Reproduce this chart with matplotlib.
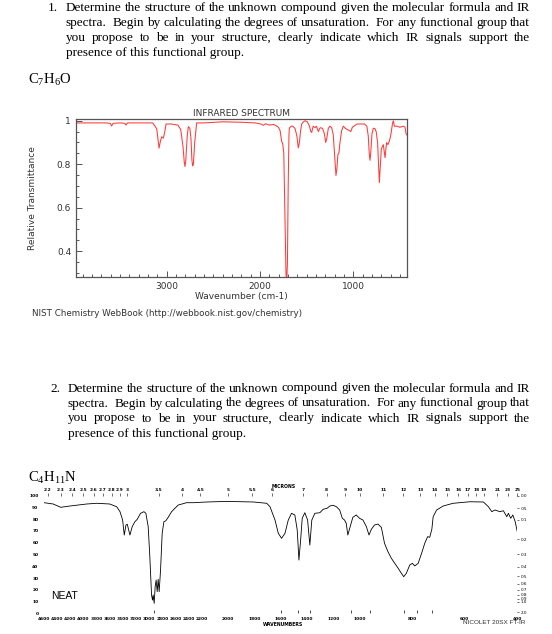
import numpy as np
import matplotlib.pyplot as plt

plt.rcParams['mathtext.fontset'] = 'custom'
plt.rcParams['mathtext.rm'] = 'Liberation Serif'
plt.rcParams['mathtext.it'] = 'Liberation Serif:italic'
plt.rcParams['mathtext.default'] = 'rm'

W, H = 552, 634

# question text
question_lines = [
    "Determine the structure of the unknown compound given the molecular formula and IR",
    "spectra.  Begin by calculating the degrees of unsaturation.  For any functional group that",
    "you propose to be in your structure, clearly indicate which IR signals support the",
    "presence of this functional group.",
]
formula_1 = r'C$_7$H$_6$O'
formula_2 = r'C$_4$H$_{11}$N'

# spectrum 1 (NIST webbook)
nist_wn = [3972, 3800, 3650, 3605, 3590, 3575, 3500, 3450, 3436, 3420,
           3300, 3150, 3107, 3090, 3082, 3068, 3054, 3036, 3020, 3007,
           2950, 2880, 2850, 2825, 2812, 2804, 2795, 2780, 2768, 2752,
           2740, 2730, 2722, 2714, 2700, 2679, 2600, 2400, 2200, 2050,
           1990, 1965, 1940, 1900, 1857, 1830, 1803, 1785, 1768, 1757,
           1745, 1732, 1722, 1714, 1706, 1698, 1690, 1686, 1665, 1650,
           1625, 1605, 1590, 1578, 1565, 1553, 1535, 1518, 1493, 1470,
           1456, 1446, 1430, 1411, 1395, 1375, 1360, 1350, 1330, 1310,
           1296, 1284, 1268, 1250, 1232, 1215, 1200, 1186, 1176, 1165,
           1155, 1143, 1125, 1107, 1085, 1064, 1045, 1028, 1010, 993,
           960, 929, 880, 855, 840, 828, 821, 812, 800, 786,
           770, 755, 740, 728, 721, 714, 700, 690, 679, 670,
           660, 650, 643, 630, 615, 600, 589, 579, 571, 560,
           535, 500, 464, 445, 435, 428]
nist_t = [0.99, 0.99, 0.99, 0.988, 0.976, 0.988, 0.99, 0.988, 0.98, 0.99,
          0.99, 0.99, 0.963, 0.90, 0.874, 0.905, 0.926, 0.92, 0.95, 0.985,
          0.985, 0.98, 0.96, 0.88, 0.81, 0.789, 0.82, 0.93, 0.973, 0.965,
          0.92, 0.82, 0.792, 0.80, 0.90, 0.99, 0.99, 0.995, 0.993, 0.99,
          0.985, 0.979, 0.986, 0.98, 0.983, 0.978, 0.97, 0.955, 0.905, 0.895,
          0.85, 0.55, 0.30, 0.25, 0.35, 0.7, 0.93, 0.966, 0.975, 0.975,
          0.965, 0.93, 0.875, 0.9, 0.955, 0.985, 0.995, 1.0, 0.995, 0.975,
          0.95, 0.946, 0.975, 0.968, 0.975, 0.95, 0.965, 0.968, 0.965, 0.94,
          0.9, 0.92, 0.965, 0.975, 0.968, 0.935, 0.84, 0.748, 0.78, 0.845,
          0.85, 0.9, 0.955, 0.975, 0.965, 0.96, 0.955, 0.95, 0.97, 0.975,
          0.985, 0.985, 0.985, 0.975, 0.93, 0.84, 0.818, 0.86, 0.94, 0.965,
          0.965, 0.95, 0.9, 0.78, 0.715, 0.77, 0.87, 0.88, 0.89, 0.86,
          0.83, 0.875, 0.9, 0.89, 0.905, 0.93, 0.96, 0.99, 1.0, 0.975,
          0.975, 0.97, 0.975, 0.97, 0.94, 0.935]
nist_xticks = [3000, 2000, 1000]
nist_yticks = [0.4, 0.6, 0.8, 1]
nist_ylabels = ['0.4', '0.6', '0.8', '1']

# spectrum 2 (Aldrich / Nicolet, % transmittance)
amine_wn = [4600, 4460, 4346, 4205, 3950, 3800, 3600, 3495, 3444, 3404,
            3379, 3353, 3333, 3293, 3258, 3217, 3182, 3131, 3080, 3050,
            3015, 2990, 2964, 2949, 2939, 2924, 2909, 2894, 2878, 2863,
            2848, 2827, 2802, 2776, 2746, 2711, 2659, 2559, 2431, 2330,
            2160, 2010, 1808, 1706, 1681, 1643, 1618, 1593, 1567, 1542,
            1517, 1492, 1474, 1461, 1448, 1436, 1416, 1395, 1378, 1363,
            1340, 1302, 1277, 1246, 1226, 1201, 1176, 1151, 1131, 1114,
            1101, 1089, 1071, 1051, 1025, 1000, 987, 974, 964, 955,
            943, 930, 917, 905, 892, 879, 866, 853, 841, 832,
            822, 809, 799, 790, 777, 764, 752, 741, 733, 725,
            720, 707, 682, 644, 580, 529, 510, 497, 485, 466,
            453, 440, 434, 425, 417, 408, 400]
amine_t = [93.9, 92.8, 90.0, 91.1, 92.8, 93.4, 92.8, 90.5, 86.3, 79.2,
           66.5, 75.0, 75.6, 66.5, 73.6, 77.8, 79.8, 84.9, 86.3, 84.9,
           73.6, 48.0, 15.7, 11.4, 15.7, 8.6, 22.7, 28.4, 18.5, 29.0,
           18.5, 36.9, 68.0, 77.8, 78.6, 81.5, 86.3, 91.9, 93.9, 93.9,
           94.5, 95.0, 94.5, 93.4, 90.5, 79.2, 68.0, 63.7, 68.0, 79.2,
           84.9, 83.5, 70.8, 45.3, 62.3, 80.7, 85.4, 79.2, 58.0, 79.2,
           84.9, 85.4, 88.3, 89.2, 91.1, 91.7, 90.5, 87.7, 80.7, 79.2,
           76.4, 66.5, 73.6, 81.5, 83.5, 80.7, 79.2, 73.6, 66.5, 71.4,
           75.0, 75.8, 73.0, 59.5, 52.4, 46.8, 42.5, 38.3, 34.1, 31.2,
           34.1, 41.1, 42.5, 40.3, 42.5, 51.0, 59.5, 65.1, 64.6, 71.4,
           82.0, 87.7, 91.1, 93.4, 94.7, 94.5, 90.5, 86.3, 87.7, 86.3,
           87.1, 82.0, 84.9, 80.7, 83.5, 77.8, 69.3]
amine_pct_ticks = [0, 10, 20, 30, 40, 50, 60, 70, 80, 90, 100]
amine_wn_ticks = [4600, 4400, 4200, 4000, 3800, 3600, 3400, 3200, 3000, 2800,
                  2600, 2400, 2200, 2000, 1800, 1600, 1400, 1200, 1000, 800, 600, 400]
micron_ticks = [2.2, 2.3, 2.4, 2.5, 2.6, 2.7, 2.8, 2.9, 3, 3.5, 4, 4.5, 5, 5.5, 6,
                7, 8, 9, 10, 11, 12, 13, 14, 15, 16, 17, 18, 19, 21, 23, 25]
absorb_ticks = [0.0, 0.05, 0.1, 0.2, 0.3, 0.4, 0.5, 0.6, 0.7, 0.8, 0.9, 1.0, 2.0]
absorb_labels = ['0.0', '.05', '0.1', '0.2', '0.3', '0.4', '0.5', '0.6', '0.7', '0.8', '0.9', '1.0', '2.0']
peak_marks = [2930, 1595, 1465, 1378, 1068, 962, 830, 782, 724]


def fx(x):
    return x / W


def fy(y):
    return 1 - y / H


# piecewise linear wavenumber axis (scale doubles at 2200 and 1000)
bp_w = np.array([400.0, 1000.0, 2200.0, 4600.0])
bp_u = np.array([0.0, 1.0, 2.0, 3.0])


def wn_fwd(w):
    w = np.asarray(w, dtype=float)
    u = np.interp(w, bp_w, bp_u)
    u = np.where(w < 400, (w - 400) / 600.0, u)
    u = np.where(w > 4600, 3 + (w - 4600) / 2400.0, u)
    return u


def wn_inv(u):
    u = np.asarray(u, dtype=float)
    w = np.interp(u, bp_u, bp_w)
    w = np.where(u < 0, 400 + u * 600.0, w)
    w = np.where(u > 3, 4600 + (u - 3) * 2400.0, w)
    return w


fig = plt.figure(figsize=(W / 100, H / 100), dpi=100)
fig.patch.set_facecolor('white')
renderer = fig.canvas.get_renderer()

serif = dict(family='Liberation Serif', size=9.5, color='black', va='center')


def paragraph(number, y_first, dy=15.0, x_num=48, x0=66, x1=530):
    fig.text(fx(x_num), fy(y_first), number, ha='left', **serif)
    for i, line in enumerate(question_lines):
        y = y_first + i * dy
        if i == len(question_lines) - 1:
            fig.text(fx(x0), fy(y), line, ha='left', **serif)
            continue
        words = line.split()
        # a sentence end inside the line gets a double gap
        weights = [2.0 if wd.endswith('.') else 1.0 for wd in words[:-1]]
        txts = [fig.text(0, fy(y), wd, ha='left', **serif) for wd in words]
        widths = [t.get_window_extent(renderer).width for t in txts]
        unit = (x1 - x0 - sum(widths)) / sum(weights)
        x = x0
        for k, (t, wdt) in enumerate(zip(txts, widths)):
            t.set_x(fx(x))
            if k < len(weights):
                x += wdt + unit * weights[k]


paragraph('1.', 8)
fig.text(fx(28), fy(80), formula_1, family='Liberation Serif', fontsize=10.5,
         ha='left', va='center')

paragraph('2.', 388.5, x_num=50, x0=68)
fig.text(fx(28), fy(478), formula_2, family='Liberation Serif', fontsize=10.5,
         ha='left', va='center')

# ---- spectrum 1 ----
ax1 = fig.add_axes([fx(76), fy(277), fx(406.7) - fx(76), fy(119) - fy(277)])
ax1.plot(nist_wn, nist_t, color='#ff3a3a', lw=0.75)
ax1.set_xlim(3972, 428)
ax1.set_ylim(0.281, 1.008)
ax1.set_xticks(nist_xticks)
ax1.set_xticks(np.arange(500, 3901, 100), minor=True)
ax1.set_yticks(nist_yticks)
ax1.set_yticklabels(nist_ylabels)
ax1.set_yticks(np.arange(0.3, 1.0, 0.05), minor=True)
ax1.tick_params(which='both', direction='in', colors='#555', labelcolor='#333',
                labelsize=6.5, width=0.7)
ax1.tick_params(which='major', length=4)
ax1.tick_params(which='minor', length=2)
for sp in ax1.spines.values():
    sp.set_color('#555')
    sp.set_linewidth(0.9)
ax1.set_title('INFRARED SPECTRUM', fontsize=6.5, color='#333', pad=2)
ax1.set_xlabel('Wavenumber (cm-1)', fontsize=6.5, color='#333', labelpad=1)
ax1.set_ylabel('Relative Transmittance', fontsize=6.5, color='#333', labelpad=14)
fig.text(fx(32), fy(313), 'NIST Chemistry WebBook (http://webbook.nist.gov/chemistry)',
         fontsize=6.3, color='#333', ha='left', va='center')

# ---- spectrum 2 ----
ax2 = fig.add_axes([fx(44), fy(613.5), fx(517.3) - fx(44), fy(495.5) - fy(613.5)])
ax2.set_xscale('function', functions=(wn_fwd, wn_inv))
ax2.plot(amine_wn, amine_t, color='black', lw=0.6)
ax2.set_xlim(4600, 400)
ax2.set_ylim(0, 100)
for sp in ax2.spines.values():
    sp.set_visible(False)
ax2.set_xticks(amine_wn_ticks)
ax2.set_xticklabels([str(w) for w in amine_wn_ticks])
ax2.set_xticks([], minor=True)
ax2.set_yticks(amine_pct_ticks)
ax2.tick_params(axis='x', length=0, pad=2.5, labelsize=3.2)
ax2.tick_params(axis='y', length=0, pad=4, labelsize=3.2)
for lab in ax2.get_xticklabels() + ax2.get_yticklabels():
    lab.set_fontweight('bold')
ax2.vlines(peak_marks, 0.5, 2.8, color='black', lw=0.5)

top = ax2.twiny()
top.set_xscale('function', functions=(wn_fwd, wn_inv))
top.set_xlim(4600, 400)
top.set_xticks([1e4 / m for m in micron_ticks])
top.set_xticklabels([('%g' % m) for m in micron_ticks])
top.set_xticks([], minor=True)
top.tick_params(axis='x', direction='out', length=2, width=0.4, pad=0.5, labelsize=3.2)
for lab in top.get_xticklabels():
    lab.set_fontweight('bold')
for sp in top.spines.values():
    sp.set_visible(False)

right = ax2.twinx()
right.set_ylim(0, 100)
right.set_yticks([100 * 10 ** (-a) for a in absorb_ticks])
right.set_yticklabels(absorb_labels)
right.tick_params(axis='y', direction='out', length=1.5, width=0.4, pad=1, labelsize=3.0)
for sp in right.spines.values():
    sp.set_visible(False)

fig.text(fx(272), fy(487), 'MICRONS', fontsize=3.3, fontweight='bold', ha='left', va='center')
fig.text(fx(283), fy(624), 'WAVENUMBERS', fontsize=3.3, fontweight='bold', ha='center', va='center')
fig.text(fx(463), fy(623), 'NICOLET 20SX FT-IR', family='Liberation Sans', fontsize=4.6,
         ha='left', va='center', color='#333')
fig.text(fx(51), fy(596), 'NEAT', family='Liberation Sans', fontsize=7.5, ha='left', va='center')

fig.savefig('out.png', dpi=100, facecolor='white')
